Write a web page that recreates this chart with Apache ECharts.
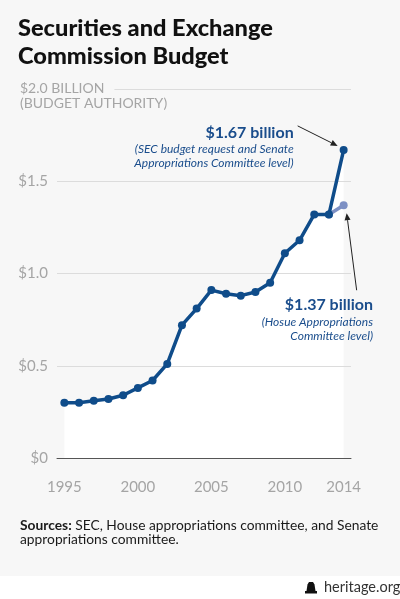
<!DOCTYPE html>
<html>
<head>
<meta charset="utf-8">
<script src="https://cdn.jsdelivr.net/npm/echarts@6/dist/echarts.min.js"></script>
<style>
html,body{margin:0;padding:0;background:#fff;}
#c{width:400px;height:599px;}
</style>
</head>
<body>
<div id="c"></div>
<script>
const years = ['1995','1996','1997','1998','1999','2000','2001','2002','2003','2004','2005','2006','2007','2008','2009','2010','2011','2012','2013','2014'];
const secBudget = [0.30,0.30,0.31,0.32,0.34,0.38,0.42,0.51,0.72,0.81,0.91,0.89,0.88,0.90,0.95,1.11,1.18,1.32,1.32,1.67];
const houseLevel = [null,null,null,null,null,null,null,null,null,null,null,null,null,null,null,null,null,null,1.32,1.37];
const xLabelYears = ['1995','2000','2005','2010','2014'];
const yTicks = {min:0, max:2, interval:0.5};

const BG = '#f7f7f7';
const BLUE = '#0f4c8a';
const LIGHT = '#7d90c4';
const TXTBLUE = '#1a4d8c';
const FONT = 'Lato, "Open Sans", sans-serif';

const chart = echarts.init(document.getElementById('c'), null, {renderer:'canvas'});

const option = {
  animation:false,
  backgroundColor:'#fff',
  grid:{left:57, right:49, top:89, bottom:141},
  xAxis:{
    type:'category', data:years, boundaryGap:true, z:3,
    axisLine:{lineStyle:{color:'#555', width:1}},
    axisTick:{inside:true, length:9, alignWithLabel:true, interval:0, lineStyle:{color:'#cfcfcf'}},
    axisLabel:{
      interval:function(i,v){return xLabelYears.indexOf(v)>=0;},
      color:'#a5a5a5', fontFamily:FONT, fontSize:15, margin:22
    },
    splitLine:{show:false}
  },
  yAxis:{
    type:'value', min:yTicks.min, max:yTicks.max, interval:yTicks.interval, z:3,
    axisLine:{show:false}, axisTick:{show:false},
    axisLabel:{
      formatter:function(v){ if(v===0) return '$0'; if(v===2) return ''; return '$'+v.toFixed(1); },
      color:'#a5a5a5', fontFamily:FONT, fontSize:15, margin:9, align:'right'
    },
    splitLine:{lineStyle:{color:'#dcdcdc', width:1}}
  },
  series:[
    {
      name:'area', type:'line', data:secBudget, z:1, symbol:'none', silent:true,
      lineStyle:{opacity:0}, areaStyle:{color:'#ffffff', opacity:1}
    },
    {
      name:'House', type:'line', data:houseLevel, z:4, symbol:'circle', symbolSize:8,
      lineStyle:{color:LIGHT, width:3.5}, itemStyle:{color:LIGHT}
    },
    {
      name:'SEC', type:'line', data:secBudget, z:5, symbol:'circle', symbolSize:8,
      lineStyle:{color:BLUE, width:3.5}, itemStyle:{color:BLUE}
    }
  ]
};
chart.setOption(option);

const pTop = chart.convertToPixel({gridIndex:0}, ['2014', secBudget[19]]);
const pHouse = chart.convertToPixel({gridIndex:0}, ['2014', houseLevel[19]]);

function arrow(x1,y1,x2,y2){
  const ang = Math.atan2(y2-y1, x2-x1);
  const L = 7, W = 3;
  const bx = x2 - L*Math.cos(ang), by = y2 - L*Math.sin(ang);
  const nx = -Math.sin(ang), ny = Math.cos(ang);
  return [
    {type:'line', z:100, shape:{x1:x1,y1:y1,x2:bx,y2:by}, style:{stroke:'#222', lineWidth:1}},
    {type:'polygon', z:100, shape:{points:[[x2,y2],[bx+nx*W,by+ny*W],[bx-nx*W,by-ny*W]]}, style:{fill:'#222'}}
  ];
}

const graphics = [
  {type:'rect', z:-10, shape:{x:0,y:0,width:400,height:576}, style:{fill:BG}},
  {type:'text', z:100, left:18, top:14, style:{text:'Securities and Exchange\nCommission Budget', font:'900 23.6px '+FONT, fill:'#111', lineHeight:28}},
  {type:'text', z:100, left:20, top:81, style:{text:'$2.0 BILLION', font:'14px '+FONT, fill:'#a5a5a5', backgroundColor:BG, padding:[0,10,0,0]}},
  {type:'text', z:100, left:20, top:96, style:{text:'(BUDGET AUTHORITY)', font:'14px '+FONT, fill:'#a5a5a5'}},
  {type:'text', z:100, style:{x:pTop[0]-50, y:pTop[1]-17, text:'$1.67 billion', font:'bold 16px '+FONT, fill:TXTBLUE, align:'right', verticalAlign:'middle'}},
  {type:'text', z:100, style:{x:pTop[0]-50, y:pTop[1]-1, text:'(SEC budget request and Senate', font:'italic 12px '+FONT, fill:TXTBLUE, align:'right', verticalAlign:'middle'}},
  {type:'text', z:100, style:{x:pTop[0]-50, y:pTop[1]+13, text:'Appropriations Committee level)', font:'italic 12px '+FONT, fill:TXTBLUE, align:'right', verticalAlign:'middle'}},
  {type:'text', z:100, style:{x:373, y:pHouse[1]+100, text:'$1.37 billion', font:'bold 16px '+FONT, fill:TXTBLUE, align:'right', verticalAlign:'middle'}},
  {type:'text', z:100, style:{x:373, y:pHouse[1]+117, text:'(Hosue Appropriations', font:'italic 12px '+FONT, fill:TXTBLUE, align:'right', verticalAlign:'middle'}},
  {type:'text', z:100, style:{x:373, y:pHouse[1]+131, text:'Committee level)', font:'italic 12px '+FONT, fill:TXTBLUE, align:'right', verticalAlign:'middle'}},
  {type:'text', z:100, left:20, top:519, style:{
    text:'{b|Sources:} SEC, House appropriations committee, and Senate\nappropriations committee.',
    font:'13.8px '+FONT, fill:'#1a1a1a', lineHeight:14,
    rich:{b:{font:'bold 13.8px '+FONT, fill:'#1a1a1a'}}
  }},
  {type:'polygon', z:100, shape:{points:[[306.5,591],[307.5,584.5],[309,582],[313,582],[314.5,584.5],[315.5,591]]}, style:{fill:'#111'}},
  {type:'rect', z:100, shape:{x:305,y:591,width:12,height:2.5}, style:{fill:'#111'}},
  {type:'text', z:100, left:324, top:580, style:{text:'heritage.org', font:'14.5px '+FONT, fill:'#333'}}
];
arrow(pTop[0]-46, pTop[1]-24, pTop[0]-6, pTop[1]-4).forEach(g=>graphics.push(g));
arrow(pHouse[0]+13, pHouse[1]+85, pHouse[0]+3, pHouse[1]+8).forEach(g=>graphics.push(g));

chart.setOption({graphic:graphics});
</script>
</body>
</html>
